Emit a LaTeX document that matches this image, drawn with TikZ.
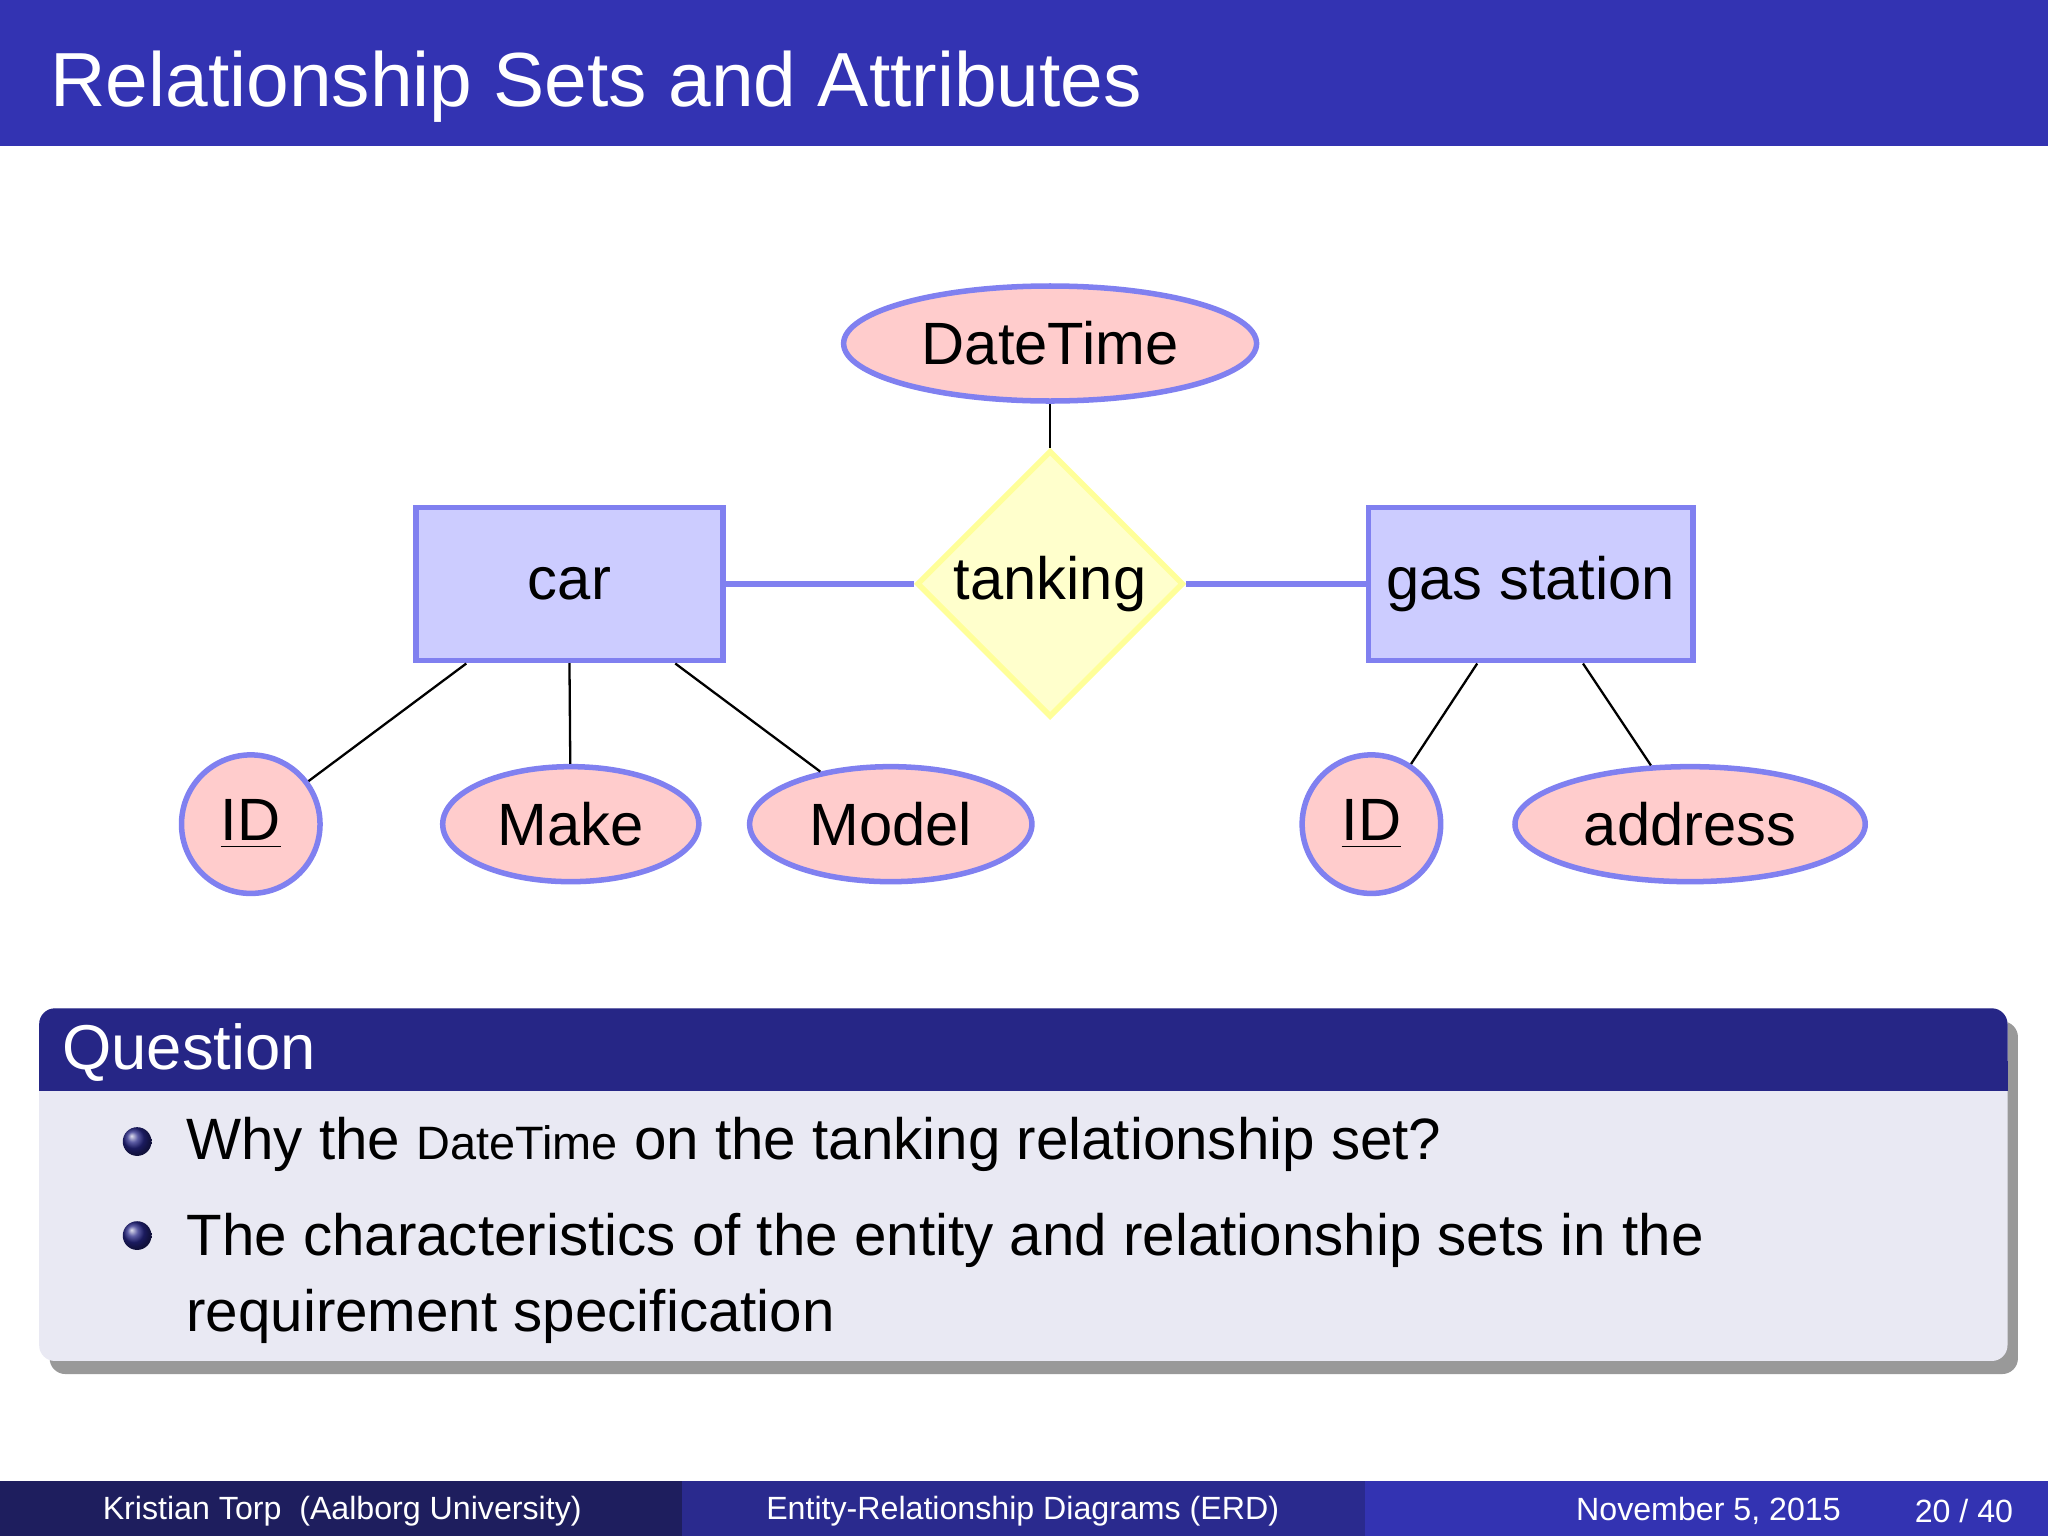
\documentclass[tikz,border=0pt]{standalone}
\usepackage{fontspec}
\setmainfont{Liberation Sans}
\usetikzlibrary{shapes.geometric,shadows}
\definecolor{bar}{HTML}{3333B2}
\definecolor{qbar}{HTML}{262686}
\definecolor{qbody}{HTML}{E9E9F3}
\definecolor{edge}{HTML}{8080F0}
\definecolor{attr}{HTML}{FFCCCC}
\definecolor{ent}{HTML}{CCCCFF}
\definecolor{rel}{HTML}{FFFFCC}
\definecolor{rele}{HTML}{FFFF99}
\definecolor{fl}{HTML}{1E1E5E}
\definecolor{fm}{HTML}{2A2A8E}
\begin{document}
\begin{tikzpicture}[x=0.01cm,y=-0.01cm,
  lbl/.style={font=\fontsize{13}{15}\selectfont},
  attr/.style={ellipse,draw=edge,line width=1.2pt,fill=attr,inner sep=0,lbl},
  ent/.style={rectangle,draw=edge,line width=1.2pt,fill=ent,inner sep=0,lbl},
  link/.style={black,line width=0.5pt}]
\useasboundingbox (0,0) rectangle (1568,1176);
\fill[white] (0,0) rectangle (1568,1176);
\fill[bar] (0,0) rectangle (1568,112);
\node[anchor=west,inner sep=0,text=white,font=\fontsize{16.7}{19}\selectfont] (title) at (38,66) {Relationship Sets and Attributes};
% diagram
\node[attr,minimum width=3.16cm,minimum height=0.88cm] (dt) at (804,263) {DateTime};
\node[diamond,draw=rele,line width=1.2pt,fill=rel,minimum width=2.04cm,minimum height=2.04cm,inner sep=0,lbl] (tk) at (804,447) {tanking};
\node[ent,minimum width=2.35cm,minimum height=1.17cm] (car) at (436,447) {car};
\node[ent,minimum width=2.48cm,minimum height=1.17cm] (gas) at (1172,447) {gas station};
\node[circle,draw=edge,line width=1.2pt,fill=attr,minimum size=1.06cm,inner sep=0,lbl] (id1) at (192,631) {\underline{ID}};
\node[attr,minimum width=1.96cm,minimum height=0.88cm] (mk) at (437,631) {Make};
\node[attr,minimum width=2.16cm,minimum height=0.88cm] (md) at (682,631) {Model};
\node[circle,draw=edge,line width=1.2pt,fill=attr,minimum size=1.06cm,inner sep=0,lbl] (id2) at (1050,631) {\underline{ID}};
\node[attr,minimum width=2.68cm,minimum height=0.88cm] (ad) at (1294,631) {address};
\draw[edge,line width=1.2pt] (car) -- (tk) -- (gas);
\draw[link] (dt) -- (tk);
\coordinate (c1) at (357,508);
\coordinate (c3) at (517,508);
\coordinate (g1) at (1131,508);
\coordinate (g2) at (1212,508);
\draw[link] (c1) -- (id1);
\draw[link] (car.south) -- (mk);
\draw[link] (c3) -- (md);
\draw[link] (g1) -- (id2);
\draw[link] (g2) -- (ad);
% question block
\fill[black!40,rounded corners=0.12cm] (38,782) rectangle (1545,1052);
\fill[qbody,rounded corners=0.12cm] (30,772) rectangle (1537,1042);
\fill[qbar,rounded corners=0.12cm] (30,772) rectangle (1537,835);
\fill[qbar] (30,812) rectangle (1537,835);
\node[anchor=west,inner sep=0,text=white,font=\fontsize{13.8}{15}\selectfont] (q) at (47,806) {Question};
\foreach \y in {874,946}{
  \shade[ball color=qbar] (105,\y) circle (11);}
\node[anchor=west,inner sep=0,font=\fontsize{12.7}{16.5}\selectfont] (t1) at (142,876) {Why the {\fontsize{10.2}{12}\selectfont DateTime} on the tanking relationship set?};
\node[anchor=north west,inner sep=0,align=left,font=\fontsize{12.7}{16.5}\selectfont] (t2) at (142,928) {The characteristics of the entity and relationship sets in the\\requirement specification};
% footer
\fill[fl] (0,1134) rectangle (522,1176);
\fill[fm] (522,1134) rectangle (1045,1176);
\fill[bar] (1045,1134) rectangle (1568,1176);
\begin{scope}[every node/.style={text=white,inner sep=0,font=\fontsize{7}{9}\selectfont}]
\node[anchor=west] (f1) at (78,1157) {Kristian Torp\ \ (Aalborg University)};
\node (f2) at (783,1157) {Entity-Relationship Diagrams (ERD)};
\node[anchor=east] (f3) at (1410,1157) {November 5, 2015};
\node[anchor=east] (f4) at (1542,1157) {20 / 40};
\end{scope}
\end{tikzpicture}
\end{document}
